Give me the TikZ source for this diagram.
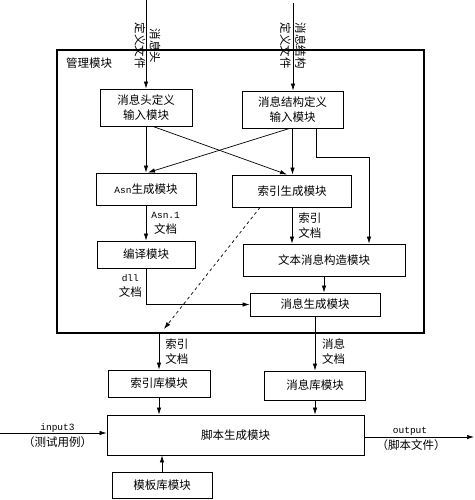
\documentclass[tikz,border=0pt]{standalone}
\usepackage{fontspec}
\setmainfont{Noto Sans CJK SC}
\setmonofont{Liberation Mono}
\usetikzlibrary{arrows.meta}
\newcommand{\mono}[1]{{\ttfamily\fontsize{9.5}{15}\selectfont #1}}

\begin{document}
\begin{tikzpicture}[x=1pt,y=-1pt]
    \tikzstyle{every node}+=[inner sep=0pt, font=\fontsize{11.5}{15}\selectfont]
    \tikzstyle{box}=[draw, line width=0.9pt, align=center]
    \tikzstyle{arr}=[-{Latex[length=7pt,width=4.5pt]}, line width=0.7pt]
    \tikzstyle{lbl}=[align=center]
    \useasboundingbox (0,0) rectangle (474,500);
    \node [draw, line width=1.3pt, minimum width=367, minimum height=283] (mgr) at (240.5,191.5) {};
    \node [anchor=west] (mgrname) at (66,63) {管理模块};
    \node [box, minimum width=92, minimum height=37] (hdr) at (146,107.5) {消息头定义\\输入模块};
    \node [box, minimum width=101, minimum height=37] (str) at (292.5,109.5) {消息结构定义\\输入模块};
    \node [box, minimum width=100, minimum height=32] (asn) at (146,189) {\mono{Asn}生成模块};
    \node [box, minimum width=119, minimum height=32] (idx) at (292,191) {索引生成模块};
    \node [box, minimum width=98, minimum height=27] (cmp) at (146,254.5) {编译模块};
    \node [box, minimum width=162, minimum height=32] (txt) at (324,260) {文本消息构造模块};
    \node [box, minimum width=130, minimum height=23] (msg) at (315,304.5) {消息生成模块};
    \node [box, minimum width=102, minimum height=27] (idxlib) at (159,383.5) {索引库模块};
    \node [box, minimum width=101, minimum height=29] (msglib) at (315,385.5) {消息库模块};
    \node [box, minimum width=257, minimum height=40] (script) at (235.5,435) {脚本生成模块};
    \node [box, minimum width=100, minimum height=26] (tpl) at (162,485) {模板库模块};
    \coordinate (hdrin) at (146,0);
    \coordinate (strin) at (293,3);
    \coordinate (dashend) at (164,329);
    \coordinate (in) at (0,433);
    \coordinate (out) at (474,437);
    \draw [arr] (hdrin) -- (hdr.north);
    \node [lbl, rotate=-90] (hdrlbl) at (147.5,46) {消息头\\定义文件};
    \draw [arr] (strin) -- (strin |- str.north);
    \node [lbl, rotate=-90] (strlbl) at (293,46) {消息结构\\定义文件};
    \draw [arr] (hdr.south) -- (asn.north);
    \draw [arr] ([xshift=7pt]hdr.south) -- ([xshift=-5pt]idx.north);
    \draw [arr] ([xshift=-3pt]str.south) -- ([xshift=2pt]asn.north);
    \draw [arr] (str.south) -- (str.south |- idx.north);
    \draw [arr] ([xshift=24pt]str.south) -- ++(0,29) -| ([xshift=45pt]txt.north);
    \draw [arr] (asn.south) -- (cmp.north) node [lbl, midway, right=5pt] (asnlbl) {\mono{Asn.1}\\文档};
    \draw [arr] (idx.south) -- (idx.south |- txt.north) node [lbl, midway, right=6pt] (idxlbl) {索引\\文档};
    \draw [arr] (txt.south) -- (txt.south |- msg.north);
    \draw [arr] (cmp.south) |- (msg.west);
    \node [lbl, anchor=east] (dlllbl) at (142,286.5) {\mono{dll}\\文档};
    \draw [arr, dashed] ([xshift=-32pt]idx.south) -- (dashend);
    \draw [arr] (idxlib.north |- mgr.south) -- (idxlib.north) node [lbl, midway, right=6pt] (idxdoc) {索引\\文档};
    \draw [arr] (msg.south) -- (msg.south |- msglib.north);
    \node [lbl, anchor=west] (msgdoc) at (322,351.5) {消息\\文档};
    \draw [arr] (idxlib.south) -- (idxlib.south |- script.north);
    \draw [arr] (msglib.south) -- (msglib.south |- script.north);
    \draw [arr] (tpl.north) -- (tpl.north |- script.south);
    \draw [arr] (in) -- (in -| script.west);
    \node (inlbl) at (57.5,428) {\mono{input3}};
    \node (incase) at (57.5,442) {（测试用例）};
    \draw [arr] (out -| script.east) -- (out);
    \node (outlbl) at (410,431) {\mono{output}};
    \node (outfile) at (411,445) {（脚本文件）};
\end{tikzpicture}
\end{document}
